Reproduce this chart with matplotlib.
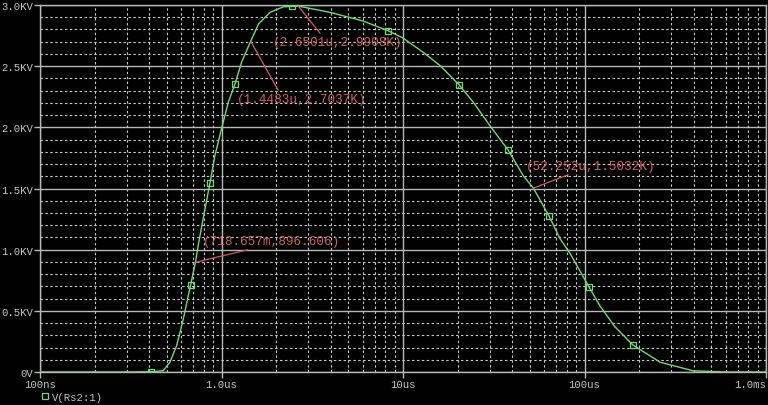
import matplotlib
matplotlib.use("Agg")
import matplotlib.pyplot as plt
from matplotlib.lines import Line2D
from matplotlib.ticker import FixedLocator, LogLocator, NullFormatter

# trace V(Rs2:1), time in microseconds, voltage in kV
t_us = [0.1, 0.2, 0.3, 0.404, 0.44, 0.478, 0.52, 0.566, 0.616, 0.676, 0.7187,
        0.745, 0.794, 0.835, 0.864, 0.92, 1.0, 1.09, 1.187, 1.29, 1.4483,
        1.6, 1.85, 2.19, 2.6501, 3.96, 6.0, 8.26, 10.0, 12.9, 16.0, 20.3,
        24.4, 30.1, 37.9, 46.0, 52.252, 63.7, 73.3, 83.2, 105.9, 121.7, 147.0,
        185.0, 261.0, 396.0, 600.0, 1000.0]
v_kv = [0.0, 0.0, 0.0, 0.002, 0.006, 0.011, 0.08, 0.215, 0.433, 0.711, 0.8966,
        1.04, 1.26, 1.43, 1.545, 1.77, 1.987, 2.205, 2.355, 2.532, 2.7037,
        2.845, 2.94, 2.985, 2.9908, 2.94, 2.87, 2.79, 2.73, 2.614, 2.505, 2.35,
        2.205, 2.014, 1.815, 1.605, 1.5032, 1.276, 1.09, 0.97, 0.695, 0.54, 0.37,
        0.22, 0.08, 0.01, 0.0, 0.0]

# symbol markers along the trace
mark_t_us = [0.408, 0.676, 0.864, 1.187, 2.46, 8.26, 20.3, 37.9, 63.7, 105.9, 185.0]
mark_v_kv = [0.004, 0.711, 1.545, 2.355, 2.99, 2.79, 2.35, 1.815, 1.276, 0.695, 0.22]

# cursor labels: point on trace, label text
cur_t_us = [2.6501, 1.4483, 0.718657, 52.252]
cur_v_kv = [2.9908, 2.7037, 0.896606, 1.5032]
cur_text = ["(2.6501u,2.9908K)", "(1.4483u,2.7037K)", "(718.657m,896.606)", "(52.252u,1.5032K)"]

x_ticks = [1e-7, 1e-6, 1e-5, 1e-4, 1e-3]
x_labels = ["100ns", "1.0us", "10us", "100us", "1.0ms"]
y_ticks = [0, 500, 1000, 1500, 2000, 2500, 3000]
y_labels = ["0V", "0.5KV", "1.0KV", "1.5KV", "2.0KV", "2.5KV", "3.0KV"]

green = "#74d874"
red = "#cf5f5f"
grey = "#c4c4c4"
mono = "Liberation Mono"

fig = plt.figure(figsize=(7.68, 4.06), dpi=100, facecolor="black")
ax = fig.add_axes([40 / 768, 33 / 406, 726 / 768, 367 / 406])
ax.set_facecolor("black")

t = [v * 1e-6 for v in t_us]
v = [k * 1000 for k in v_kv]
ax.plot(t, v, color=green, lw=1.0, zorder=3)
ax.plot([m * 1e-6 for m in mark_t_us], [k * 1000 for k in mark_v_kv], ls="none",
        marker="s", ms=4.5, mfc="none", mec=green, mew=0.9, zorder=4)

ax.set_xscale("log")
ax.set_xlim(1e-7, 1e-3)
ax.set_ylim(0, 3000)

ax.xaxis.set_major_locator(FixedLocator(x_ticks))
ax.set_xticklabels(x_labels)
ax.xaxis.set_minor_locator(LogLocator(base=10, subs=range(2, 10), numticks=20))
ax.xaxis.set_minor_formatter(NullFormatter())
ax.yaxis.set_major_locator(FixedLocator(y_ticks))
ax.set_yticklabels(y_labels)
ax.yaxis.set_minor_locator(FixedLocator(range(100, 3000, 100)))

ax.grid(which="major", color="#b8b8b8", lw=1.0, ls="-")
ax.grid(which="minor", color="#c8c8c8", lw=0.8, ls=(0, (2.2, 2.2)))
ax.tick_params(which="major", colors="#b8b8b8", length=4, width=1, pad=1,
               labelcolor=grey, labelsize=7.7)
ax.tick_params(which="minor", length=0)
for lbl in ax.get_xticklabels() + ax.get_yticklabels():
    lbl.set_family(mono)
ax.get_xticklabels()[-1].set_horizontalalignment("right")
for s in ax.spines.values():
    s.set_color("#b8b8b8")
    s.set_linewidth(1.0)

# label boxes: left edge / vertical centre in image pixels, and where the leader meets the text
text_px = [(273, 43), (237, 100), (203, 242), (526, 167)]
rel = [(0.38, 1.0), (0.33, 1.0), (0.41, 0.0), (0.38, 0.0)]
for i in range(len(cur_text)):
    ax.annotate(cur_text[i], xy=(cur_t_us[i] * 1e-6, cur_v_kv[i] * 1000),
                xytext=(text_px[i][0], 406 - text_px[i][1]), textcoords="figure pixels",
                ha="left", va="center", color=red, fontsize=9.1, family=mono, zorder=5,
                arrowprops=dict(arrowstyle="-", color=red, lw=0.9, shrinkA=0, shrinkB=0,
                                relpos=rel[i]))

h = Line2D([], [], ls="none", marker="s", ms=4.5, mfc="none", mec=green, mew=0.9)
leg = fig.legend([h], ["V(Rs2:1)"], loc="center left", bbox_to_anchor=(35 / 768, 8 / 406),
                 frameon=False, borderpad=0, handlelength=0.8, handletextpad=0.3,
                 prop={"family": mono, "size": 7.7})
for txt in leg.get_texts():
    txt.set_color(grey)

fig.savefig("out.png", dpi=100, facecolor="black")
